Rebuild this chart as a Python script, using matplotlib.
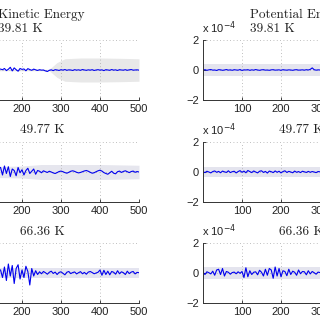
import numpy as np
import matplotlib
matplotlib.use("Agg")
import matplotlib.pyplot as plt

# values in units of 1e-4
temps = ["39.81 K", "49.77 K", "66.36 K"]

ke1 = [0.06, 0.02, 0.1, -0.04, 0.05, 0.18, -0.06, 0.14, 0.02, -0.08, 0.1, 0.04, 0.07, -0.05, 0.09,
       0.03, -0.02, 0.06, 0.01, -0.03, 0.02, -0.01, 0.0, -0.06, -0.1, -0.02, 0.01, -0.04, 0.02,
       0.0, -0.03, 0.02, -0.01, 0.03, -0.02, 0.01, 0.0, -0.03, 0.02, -0.01, 0.01, -0.02, 0.03, 0.0,
       -0.02, 0.01, -0.01, 0.02, -0.03, 0.0, 0.02, -0.01, 0.01, -0.04, 0.02, 0.0, -0.02, 0.03, -0.01,
       0.01, -0.03, 0.02, 0.0, -0.01, 0.02, -0.02, 0.01, 0.03, -0.01, 0.0, 0.01, -0.01]
ke2 = [0.3, -0.2, 0.4, -0.1, 0.35, -0.3, 0.2, 0.1, -0.25, 0.3, -0.05, 0.15, -0.2, 0.1, 0.25, -0.1,
       0.05, 0.2, -0.15, 0.1, 0.05, -0.05,
       0.08, 0.02, -0.03, 0.05, 0.0, -0.06, -0.1, -0.04, 0.03, 0.06, 0.02, -0.04, -0.08, -0.02, 0.05,
       0.08, 0.04, -0.02, -0.06, -0.03, 0.02, 0.07, 0.1, 0.05, -0.02, -0.08, -0.05, 0.02, 0.08, 0.12,
       0.06, -0.04, -0.1, -0.15, -0.05, 0.05, -0.08, -0.12, 0.02, 0.06, -0.03, 0.04, 0.08, 0.02,
       -0.04, 0.03, 0.06, -0.02, 0.03, 0.0]
ke3 = [0.2, -0.3, 0.4, -0.5, 0.6, -0.2, 0.5, -0.7, 0.3, 0.55, -0.4, 0.2, -0.3, 0.45, 0.1, -0.8,
       0.3, -0.2, 0.15, -0.1,
       0.08, -0.05, 0.1, 0.02, -0.08, 0.05, 0.12, -0.03, 0.06, -0.1, 0.04, 0.08, -0.02, -0.12, 0.05,
       0.1, -0.04, 0.03, 0.07, -0.06, 0.02, 0.09, -0.05, 0.04, -0.08, 0.06, 0.1, 0.03, -0.05, 0.0,
       0.05, 0.2, -0.15, 0.18, -0.1, 0.12, -0.12, 0.1, 0.05, -0.08, 0.15, -0.05, 0.08, 0.02, -0.1,
       0.12, -0.04, 0.06, 0.1, -0.06, 0.04, 0.02]

pe1 = [0.0, 0.02, -0.02, 0.01, 0.03, -0.01, 0.0, -0.03, 0.02, 0.01, -0.02, 0.0, 0.03, -0.01, 0.01,
       -0.02, 0.02, 0.0, -0.01, 0.03, -0.03, 0.01, 0.0, 0.02, -0.02, 0.01, -0.01, 0.03, 0.0, -0.02,
       0.01, 0.02, -0.01, 0.0, -0.02, 0.01, 0.02, -0.01, 0.0, 0.01, -0.02, 0.02, 0.0, -0.01, 0.01,
       0.0, -0.02, 0.01, 0.02, -0.01, 0.0, 0.01, -0.01, 0.02, 0.0, 0.04, 0.14, 0.02, -0.01, 0.01,
       0.0, -0.01]
pe2 = [0.02, -0.04, 0.05, 0.0, -0.06, 0.03, 0.07, -0.02, 0.04, -0.05, 0.06, 0.01, -0.03, 0.08,
       -0.04, 0.02, 0.05, -0.06, 0.03, 0.09, -0.02, 0.06, -0.05, 0.1, 0.03, -0.04, 0.07, 0.0, -0.06,
       0.05, 0.08, -0.03, 0.04, -0.07, 0.06, 0.02, -0.04, 0.07, -0.02, 0.05, -0.06, 0.03, 0.08,
       -0.03, 0.04, 0.0, -0.05, 0.06, -0.02, 0.03, -0.04, 0.05, 0.01, -0.03, 0.04, -0.02, 0.03,
       0.0, -0.04, 0.03, 0.01, -0.02]
pe3 = [0.05, -0.1, 0.08, 0.02, -0.06, 0.12, -0.15, 0.2, 0.25, -0.1, 0.3, -0.2, 0.1, 0.05, -0.08,
       0.03, 0.06, -0.05, 0.08, -0.02, 0.1, -0.3, 0.35, -0.25, 0.15, -0.1, 0.05, 0.08, -0.12, 0.18,
       0.05, -0.2, 0.25, -0.15, 0.3, 0.2, -0.35, 0.4, -0.2, 0.3, -0.25, 0.15, 0.1, -0.18, 0.25,
       -0.1, 0.12, 0.05, -0.15, 0.2, -0.05, 0.1, 0.08, -0.12, 0.15, -0.06, 0.1, 0.02, -0.08, 0.06,
       0.03, -0.04]

# shaded band half widths at coarse nodes
ke_band_x = [[0, 270, 290, 310, 350, 400, 450, 500], [0, 200, 250, 300, 400, 500], [0, 250, 500]]
ke_band_w = [[0.05, 0.05, 0.5, 0.75, 0.8, 0.8, 0.78, 0.75], [0.3, 0.4, 0.5, 0.5, 0.5, 0.45], [0.35, 0.35, 0.35]]
pe_band_x = [[0, 250, 500], [0, 250, 500], [0, 250, 500]]
pe_band_w = [[0.4, 0.4, 0.4], [0.33, 0.33, 0.33], [0.4, 0.4, 0.4]]

ke_data = [ke1, ke2, ke3]
pe_data = [pe1, pe2, pe3]
band_colors = ["#e8e8e8", "#e6e6ee", "#e4e4f0"]


def px(x, y):
    return x / 320.0, 1 - y / 320.0


def style(ax):
    ax.set_xlim(0, 500)
    ax.set_ylim(-2, 2)
    ax.set_xticks([100, 200, 300, 400, 500])
    ax.set_yticks([-2, 0, 2])
    ax.tick_params(direction="in", length=2.5, width=0.6, labelsize=8, pad=3, colors="#222222")
    ax.grid(True, linestyle=(0, (1, 3)), color="#aaaaaa", linewidth=0.6)
    for s in ["top", "right"]:
        ax.spines[s].set_visible(False)
    for s in ["left", "bottom"]:
        ax.spines[s].set_linewidth(0.7)
        ax.spines[s].set_color("#333333")
    ax.set_yticklabels(["\u22122", "0", "2"])


fig = plt.figure(figsize=(3.2, 3.2), dpi=100)
plt.rcParams["font.family"] = ["Liberation Sans", "DejaVu Sans"]

bottoms = [100, 202, 303]
for i in range(3):
    b = 1 - bottoms[i] / 320.0
    h = 60 / 320.0
    axl = fig.add_axes([-56 / 320.0, b, 195 / 320.0, h])
    axr = fig.add_axes([203 / 320.0, b, 195 / 320.0, h])

    axl.fill_between(ke_band_x[i], [-w for w in ke_band_w[i]], ke_band_w[i],
                     color=band_colors[i], linewidth=0)
    xk = np.linspace(145, 500, len(ke_data[i]))
    axl.plot(xk, ke_data[i], color="#0000ee", linewidth=0.8)

    axr.fill_between(pe_band_x[i], [-w for w in pe_band_w[i]], pe_band_w[i],
                     color="#e4e4ee", linewidth=0)
    xp = np.linspace(0, 305, len(pe_data[i]))
    axr.plot(xp, pe_data[i], color="#0000ee", linewidth=0.8)

    style(axl)
    style(axr)

    # offset label
    top = bottoms[i] - 60
    fig.text(*px(202, top - 4), "x 10$^{-4}$", fontsize=8, ha="left", va="bottom", color="#222222")

# titles (serif)
serif = dict(family="cmr10", fontsize=9.5, color="#222222", va="center")
fig.text(*px(-2, 15), "Kinetic Energy", ha="left", **serif)
fig.text(*px(-2, 29), temps[0], ha="left", **serif)
fig.text(*px(250, 15), "Potential Energy", ha="left", **serif)
fig.text(*px(250, 29), temps[0], ha="left", **serif)
fig.text(*px(42, 130), temps[1], ha="center", **serif)
fig.text(*px(301, 130), temps[1], ha="center", **serif)
fig.text(*px(42, 232), temps[2], ha="center", **serif)
fig.text(*px(301, 232), temps[2], ha="center", **serif)

fig.savefig("out.png", dpi=100)
